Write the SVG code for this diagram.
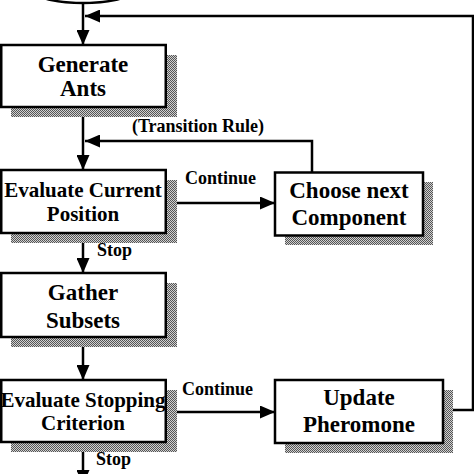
<svg xmlns="http://www.w3.org/2000/svg" width="474" height="474" viewBox="0 0 474 474">
  <defs>
    <pattern id="dots" width="2" height="2" patternUnits="userSpaceOnUse">
      <rect width="2" height="2" fill="#d0d0d0"/>
      <rect width="1" height="1" fill="#555"/>
      <rect x="1" y="1" width="1" height="1" fill="#555"/>
    </pattern>
    <marker id="arr" markerWidth="15" markerHeight="13" refX="15" refY="6.5" orient="auto" markerUnits="userSpaceOnUse">
      <path d="M0,0 L15,6.5 L0,13 Z" fill="#000"/>
    </marker>
  </defs>
  <style>
    .box{fill:#fff;stroke:#000;stroke-width:2.5}
    .sh{fill:url(#dots)}
    .t{font-family:"Liberation Serif","Times New Roman",serif;font-weight:bold;text-anchor:middle;fill:#000}
    .big{font-size:23px}
    .mid{font-size:21px}
    .lbl{font-family:"Liberation Serif","Times New Roman",serif;font-weight:bold;font-size:18px;fill:#000}
    .c{fill:none;stroke:#000;stroke-width:2.5}
  </style>
  <rect width="474" height="474" fill="#fff"/>
  <g id="connectors">
    <ellipse cx="83" cy="-7" rx="45" ry="10" class="c"/>
    <line x1="83" y1="3" x2="83" y2="45" class="c" marker-end="url(#arr)"/>
    <polyline points="443,410 473,410 473,16 85,16" class="c" marker-end="url(#arr)"/>
    <line x1="83" y1="107" x2="83" y2="170" class="c" marker-end="url(#arr)"/>
    <polyline points="312,172 312,141 85,141" class="c" marker-end="url(#arr)"/>
    <line x1="166" y1="203" x2="275" y2="203" class="c" marker-end="url(#arr)"/>
    <line x1="83" y1="233" x2="83" y2="273" class="c" marker-end="url(#arr)"/>
    <line x1="83" y1="337" x2="83" y2="380" class="c" marker-end="url(#arr)"/>
    <line x1="166" y1="412" x2="275" y2="412" class="c" marker-end="url(#arr)"/>
    <line x1="83" y1="442" x2="83" y2="485" class="c" marker-end="url(#arr)"/>
    <text class="lbl" x="198" y="132" text-anchor="middle">(Transition Rule)</text>
    <text class="lbl" x="185" y="184">Continue</text>
    <text class="lbl" x="97" y="256">Stop</text>
    <text class="lbl" x="182" y="395">Continue</text>
    <text class="lbl" x="96" y="465">Stop</text>
  </g>
  <g id="generate">
    <rect class="sh" x="11" y="55" width="166" height="62"/>
    <rect class="box" x="1.25" y="45" width="164.5" height="62"/>
    <text class="t big" x="83" y="72">Generate</text>
    <text class="t big" x="83" y="96">Ants</text>
  </g>
  <g id="evalcurrent">
    <rect class="sh" x="11" y="180" width="166" height="63"/>
    <rect class="box" x="1.25" y="170" width="164.5" height="63"/>
    <text class="t mid" x="83" y="197">Evaluate Current</text>
    <text class="t mid" x="83" y="221">Position</text>
  </g>
  <g id="choose">
    <rect class="sh" x="285" y="182" width="148" height="63"/>
    <rect class="box" x="275" y="172.5" width="148" height="63"/>
    <text class="t big" x="349" y="198">Choose next</text>
    <text class="t big" x="349" y="225">Component</text>
  </g>
  <g id="gather">
    <rect class="sh" x="11" y="283" width="166" height="64"/>
    <rect class="box" x="1.25" y="273" width="164.5" height="64"/>
    <text class="t big" x="83" y="300">Gather</text>
    <text class="t big" x="83" y="328">Subsets</text>
  </g>
  <g id="evalstop">
    <rect class="sh" x="11" y="390" width="166" height="62"/>
    <rect class="box" x="1.25" y="380" width="164.5" height="62"/>
    <text class="t mid" x="83" y="407">Evaluate Stopping</text>
    <text class="t mid" x="83" y="430">Criterion</text>
  </g>
  <g id="update">
    <rect class="sh" x="285" y="390" width="168" height="63"/>
    <rect class="box" x="275" y="380" width="168" height="63"/>
    <text class="t big" x="359" y="405">Update</text>
    <text class="t big" x="359" y="432">Pheromone</text>
  </g>
</svg>
